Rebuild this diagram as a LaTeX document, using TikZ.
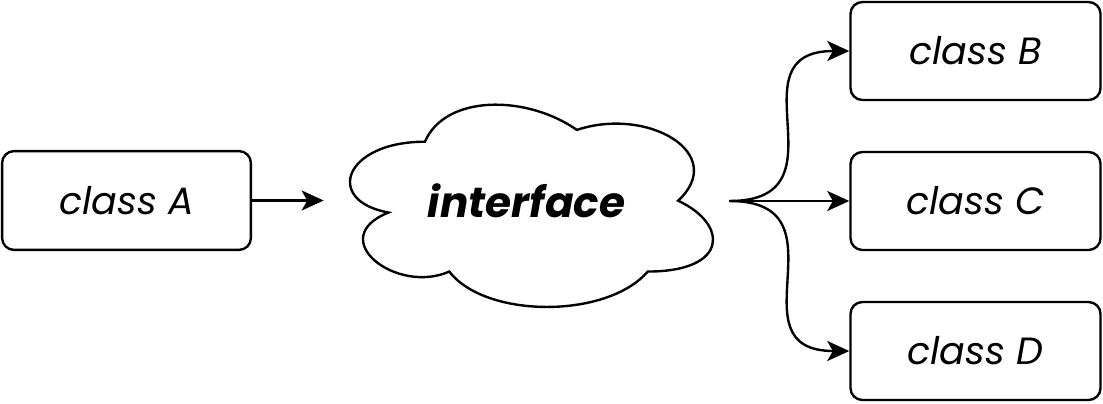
\documentclass[tikz,border=0pt]{standalone}
\usepackage{fontspec}
\setmainfont{Poppins}
\usepackage{tikz}
\usetikzlibrary{arrows.meta}

\tikzset{
	classbox/.style={draw, line width=1.7pt, rounded corners=0.3cm, minimum width=6.25cm, minimum height=2.45cm, font=\fontsize{27}{32}\selectfont\itshape},
	arr/.style={-{Stealth[length=0.55cm,width=0.5cm,inset=0.14cm]}, line width=1.7pt}
}

\begin{document}
\begin{tikzpicture}[x=0.025cm,y=-0.025cm]
		\useasboundingbox (0,0) rectangle (1103,403);
		\node[classbox, minimum width=6.22cm, minimum height=2.47cm] (a) at (126.5,200.5) {class A};
		\node[minimum width=10.125cm, minimum height=5.9cm, inner sep=0pt, font=\fontsize{30}{36}\selectfont\bfseries\itshape] (iface) at (526.5,201) {interface};
		\draw[line width=1.7pt, shift={(iface.north west)}, x=10.125cm, y=-5.9cm] (0.25,0.25) .. controls (0.05,0.25) and (0,0.5) .. (0.16,0.55) .. controls (0,0.66) and (0.18,0.9) .. (0.31,0.8) .. controls (0.4,1) and (0.7,1) .. (0.8,0.8) .. controls (1,0.8) and (1,0.6) .. (0.875,0.5) .. controls (1,0.3) and (0.8,0.1) .. (0.625,0.2) .. controls (0.5,0.05) and (0.3,0.05) .. (0.25,0.25) -- cycle;
		\node[classbox] (b) at (975.5,51) {class B};
		\node[classbox] (c) at (975.5,201) {class C};
		\node[classbox] (d) at (975.5,351) {class D};
		\coordinate (fork) at (iface.east);
		
		\draw[arr] (a.east) -- (a.east -| iface.west);
		\draw[arr] (fork) .. controls +(121,0) and +(-120,0) .. (b.west);
		\draw[arr] (fork) -- (c.west);
		\draw[arr] (fork) .. controls +(121,0) and +(-120,0) .. (d.west);
		
\end{tikzpicture}
\end{document}
